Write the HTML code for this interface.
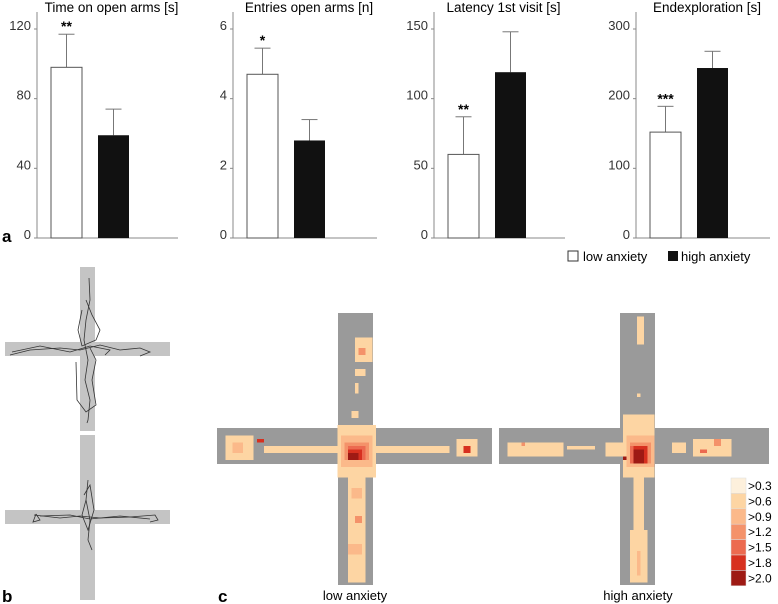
<!DOCTYPE html>
<html><head><meta charset="utf-8"><style>
body{margin:0;background:#fff;}
svg{display:block;font-family:"Liberation Sans",Arial,sans-serif;}
</style></head><body>
<svg id="s" width="778" height="604" viewBox="0 0 778 604"></svg>
<script>
const titles=["Time on open arms [s]","Entries open arms [n]","Latency 1st visit [s]","Endexploration [s]"];
const yMax=[120,6,150,300];
const ticks=[[0,40,80,120],[0,2,4,6],[0,50,100,150],[0,100,200,300]];
const lowVals=[98,4.7,60,152];
const lowErr=[117,5.45,87,189];
const highVals=[59,2.8,119,244];
const highErr=[74,3.4,148,268];
const stars=["**","*","**","***"];
const axisX=[37,233,434,636];
const axisEnd=[178,377,565,770];
const levelColors=["#fdf0dc","#fdd5a3","#fbb98a","#f4926a","#ec6a50","#d7301f","#9e1a14"];
const levelLabels=[">0.3",">0.6",">0.9",">1.2",">1.5",">1.8",">2.0"];
const lowBlobs=[[-37,-3,-30,3,1],[-35,-1,-33,1,2],[-28,-2,-27,-2,5],[-26,0,-6,1,1],[-5,-6,5,8,1],[-4,-3,4,5,2],[-3,-1,3,3,3],[-2,0,2,3,4],[-2,1,1,3,5],[-2,2,0,3,6],[6,0,26,1,1],[29,-2,34,2,1],[31,0,32,1,5],[-2,9,2,38,1],[-1,12,1,14,2],[0,20,1,21,3],[-2,28,1,30,2],[0,-31,4,-25,1],[1,-28,2,-27,3],[0,-22,2,-21,1],[0,-18,0,-16,1],[-1,-10,0,-9,1]];
const highBlobs=[[-37,-1,-22,2,1],[-33,-1,-33,-1,3],[-20,0,-13,0,1],[-9,-1,-5,2,1],[-4,-9,4,8,1],[-3,-3,4,5,2],[-2,-1,3,4,3],[-2,0,2,4,4],[-1,0,2,4,5],[-1,1,1,4,6],[-4,3,-4,3,6],[10,-1,13,1,1],[16,-2,26,2,1],[22,-2,23,-1,3],[18,1,19,1,4],[-1,9,1,33,1],[-2,24,2,38,1],[0,30,0,36,2],[0,-37,1,-30,1],[0,-15,0,-15,1]];
const NS="http://www.w3.org/2000/svg";
const svg=document.getElementById('s');
function mk(t,a,p){const e=document.createElementNS(NS,t);for(const k in a)e.setAttribute(k,a[k]);(p||svg).appendChild(e);return e;}
const y0=238,yTop=29;
for(let i=0;i<4;i++){
  const g=mk('g',{});
  
  
  const ys=v=>y0-(v/yMax[i])*(y0-yTop);
  const ax=axisX[i];
  const t=mk('text',{x:(ax+axisEnd[i])/2+4,y:12,'text-anchor':'middle','font-size':13.5},g);t.textContent=titles[i];
  
  mk('line',{x1:ax,y1:12,x2:ax,y2:y0,stroke:'#888','stroke-width':1},g);
  mk('line',{x1:ax,y1:y0,x2:axisEnd[i],y2:y0,stroke:'#888','stroke-width':1},g);
  ticks[i].forEach(v=>{const y=ys(v);mk('line',{x1:ax-3,y1:y,x2:ax,y2:y,stroke:'#888'},g);
    const l=mk('text',{x:ax-6,y:y+1,'text-anchor':'end','font-size':13,fill:'#333'},g);l.textContent=v;
    });
  const bx1=ax+14,bx2=ax+61,bw=31;
  mk('line',{x1:bx1+bw/2,y1:ys(lowErr[i]),x2:bx1+bw/2,y2:ys(lowVals[i]),stroke:'#777'},g);
  mk('line',{x1:bx1+bw/2-8,y1:ys(lowErr[i]),x2:bx1+bw/2+8,y2:ys(lowErr[i]),stroke:'#777'},g);
  const r1=mk('rect',{x:bx1,y:ys(lowVals[i]),width:bw,height:y0-ys(lowVals[i]),fill:'#fff',stroke:'#555'},g);
  
  mk('line',{x1:bx2+bw/2,y1:ys(highErr[i]),x2:bx2+bw/2,y2:ys(highVals[i]),stroke:'#777'},g);
  mk('line',{x1:bx2+bw/2-8,y1:ys(highErr[i]),x2:bx2+bw/2+8,y2:ys(highErr[i]),stroke:'#777'},g);
  const r2=mk('rect',{x:bx2,y:ys(highVals[i]),width:bw,height:y0-ys(highVals[i]),fill:'#111'},g);
  
  const s=mk('text',{x:bx1+bw/2,y:ys(lowErr[i])-3,'text-anchor':'middle','font-size':14,'font-weight':'bold'},g);s.textContent=stars[i];
  
}
function label(txt,x,y,size,bold,name,anchor){const t=mk('text',{x:x,y:y,'font-size':size,'font-weight':bold?'bold':'normal','text-anchor':anchor||'start'});t.textContent=txt;return t;}
label('a',2,242,17,true,'panel-a-label');label('b',2,602,17,true,'panel-b-label');label('c',218,602,17,true,'panel-c-label');
const lg=mk('g',{});
mk('rect',{x:568,y:251,width:10,height:10,fill:'#fff',stroke:'#333'},lg);
label('low anxiety',583,261,13,false,'legend-low-anxiety');
mk('rect',{x:668,y:251,width:10,height:10,fill:'#111'},lg);
label('high anxiety',681,261,13,false,'legend-high-anxiety');
function bcross(cy1,cy2,hy,name){const g=mk('g',{});
 mk('rect',{x:80,y:cy1,width:15,height:cy2-cy1,fill:'#c4c4c4'},g);mk('rect',{x:5,y:hy,width:165,height:14,fill:'#c4c4c4'},g);return g;}
const gb1=bcross(267,431,342,'maze-track-low');
const gb2=bcross(435,600,510,'maze-track-high');
const tr1=["M89 278 L90 300 L86 320 L84 340 L88 360 L85 380 L90 400 L88 420 L87 423","M10 355 L30 350 L60 348 L80 350 L100 345 L120 350 L140 348 L150 352 L140 356","M82 310 L78 330 L82 346 L96 340 L100 330 L92 315 L86 300","M76 362 L77 400 L86 412 L96 405 L92 380 L96 360 L90 348","M12 352 L40 346 L70 352 L90 346 L110 350 L105 355"];
const tr2=["M88 480 L86 500 L90 520 L88 540 L92 550","M34 515 L60 518 L80 516 L100 518 L130 517 L155 515 L158 520 L150 522","M36 514 L40 520 L33 522 L36 514","M84 495 L90 485 L94 510 L88 530 L82 515 L86 500","M40 516 L70 515 L90 519 L120 516 L150 519"];
tr1.forEach(d=>mk('path',{d:d,fill:'none',stroke:'#333','stroke-width':0.8},gb1));
tr2.forEach(d=>mk('path',{d:d,fill:'none',stroke:'#333','stroke-width':0.8},gb2));
const cs=3.5;
function heat(cx,blobs,name,vx,hx0,hx1){
 const g=mk('g',{});
 mk('rect',{x:vx,y:313,width:35,height:272,fill:'#9a9a9a'},g);
 mk('rect',{x:hx0,y:428,width:hx1-hx0,height:36,fill:'#9a9a9a'},g);
 blobs.forEach(b=>{const r=mk('rect',{x:cx+b[0]*cs,y:446+b[1]*cs,width:(b[2]-b[0]+1)*cs,height:(b[3]-b[1]+1)*cs,fill:levelColors[b[4]]},g);
   });
}
heat(355,lowBlobs,'heatmap-low-anxiety',338,217,492);
heat(637,highBlobs,'heatmap-high-anxiety',620,499,769);
label('low anxiety',355,600,13,false,'heatmap-label-low','middle');
label('high anxiety',638,600,13,false,'heatmap-label-high','middle');
const cl=mk('g',{});
levelColors.forEach((c,i)=>{const y=478+i*15.4;mk('rect',{x:731,y:y,width:15,height:15.4,fill:c,stroke:'#ddd','stroke-width':0.5},cl);
 label(levelLabels[i],748,y+12,12,false,'color-legend-label');});
</script>
</body></html>
